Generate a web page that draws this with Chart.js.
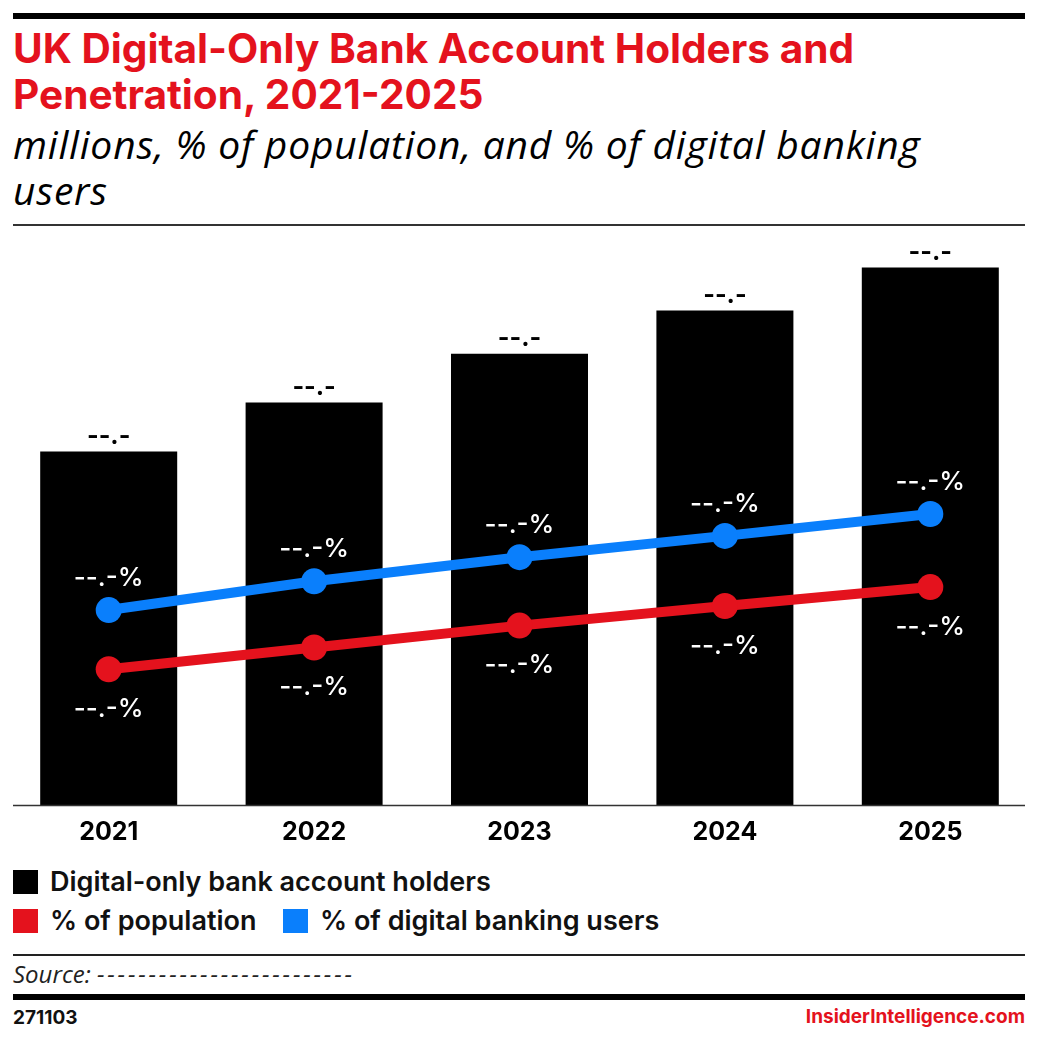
<!DOCTYPE html>
<html>
<head>
<meta charset="utf-8">
<script src="https://cdn.jsdelivr.net/npm/chart.js@4"></script>
<style>
  body { margin: 0; background: #fff; width: 1038px; height: 1042px; position: relative; overflow: hidden; font-family: Inter, sans-serif; }
  .abs { position: absolute; }
  .rule { position: absolute; left: 13px; width: 1012px; background: #000; }
  #title { left: 13px; top: 26px; font: 700 40.6px Inter; line-height: 46px; color: #e4121d; white-space: nowrap; }
  #subtitle { left: 13px; top: 121px; font: italic 400 39px "Open Sans"; line-height: 46px; letter-spacing: 0.8px; color: #000; white-space: nowrap; }
  .leg { position: absolute; font: 600 27px Inter; color: #111; line-height: 24px; white-space: nowrap; }
  .sw { position: absolute; width: 25px; height: 24px; }
  #source { left: 13px; top: 959px; font: italic 400 24px "Open Sans"; line-height: 30px; color: #222; white-space: nowrap; }
  #source span { letter-spacing: 2.8px; }
  #code { left: 13px; top: 1006px; font: 700 19px Inter; color: #111; }
  #brand { right: 13px; top: 1005px; font: 700 19px Inter; color: #e4121d; }
  #wrap { position: absolute; left: 0; top: 230px; width: 1038px; height: 629px; }
</style>
</head>
<body>
<div class="rule" style="top:13px;height:6px"></div>
<div id="title" class="abs">UK Digital-Only Bank Account Holders and<br>Penetration, 2021-2025</div>
<div id="subtitle" class="abs">millions, % of population, and % of digital banking<br>users</div>
<div class="rule" style="top:224px;height:2px;background:#333"></div>

<div id="wrap"><canvas id="myChart"></canvas></div>

<div class="sw" style="left:13px;top:870px;background:#000"></div>
<div class="leg" style="left:50px;top:870px">Digital-only bank account holders</div>
<div class="sw" style="left:13px;top:909px;background:#e4121d"></div>
<div class="leg" style="left:50px;top:909px">% of population</div>
<div class="sw" style="left:283px;top:909px;background:#0a7ffc"></div>
<div class="leg" style="left:320px;top:909px">% of digital banking users</div>

<div class="rule" style="top:954px;height:2px;background:#222"></div>
<div id="source" class="abs">Source: <span>-------------------------</span></div>
<div class="rule" style="top:994px;height:6px"></div>
<div id="code" class="abs">271103</div>
<div id="brand" class="abs">InsiderIntelligence.com</div>

<script>
var years = ['2021', '2022', '2023', '2024', '2025'];
// millions
var holders = [12.3, 14.0, 15.7, 17.2, 18.7];
// % of population
var popShare = [23.6, 27.4, 31.2, 34.6, 37.9];
// % of digital banking users
var userShare = [33.9, 38.9, 43.1, 46.8, 50.6];
var barLabel = '--.-';
var pctLabel = '--.-%';

var labelPlugin = {
  id: 'valueLabels',
  afterDatasetsDraw: function(chart) {
    var ctx = chart.ctx;
    var area = chart.chartArea;
    ctx.save();
    // baseline
    ctx.strokeStyle = '#333';
    ctx.lineWidth = 1.5;
    ctx.beginPath();
    ctx.moveTo(13, area.bottom + 0.5);
    ctx.lineTo(1025, area.bottom + 0.5);
    ctx.stroke();

    ctx.textAlign = 'center';
    ctx.textBaseline = 'middle';
    chart.data.datasets.forEach(function(ds, i) {
      var meta = chart.getDatasetMeta(i);
      meta.data.forEach(function(el) {
        if (ds.type === 'bar') {
          ctx.fillStyle = '#000';
          ctx.font = '700 25px Inter';
          ctx.fillText(barLabel, el.x, el.y - 15);
        } else {
          ctx.fillStyle = '#fff';
          ctx.font = '500 26px Inter';
          var dy = ds.labelPos === 'above' ? -32 : 40;
          ctx.fillText(pctLabel, el.x, el.y + dy);
        }
      });
    });
    ctx.restore();
  }
};

var context = document.getElementById('myChart');
var myChart = new Chart(context, {
  data: {
    labels: years,
    datasets: [
      {
        type: 'line',
        label: '% of digital banking users',
        data: userShare,
        yAxisID: 'y1',
        borderColor: '#0a7ffc',
        backgroundColor: '#0a7ffc',
        borderWidth: 10,
        pointRadius: 13,
        pointBorderWidth: 0,
        labelPos: 'above',
        order: 1
      },
      {
        type: 'line',
        label: '% of population',
        data: popShare,
        yAxisID: 'y1',
        borderColor: '#e4121d',
        backgroundColor: '#e4121d',
        borderWidth: 10,
        pointRadius: 13,
        pointBorderWidth: 0,
        labelPos: 'below',
        order: 2
      },
      {
        type: 'bar',
        label: 'Digital-only bank account holders',
        data: holders,
        yAxisID: 'y',
        backgroundColor: '#000',
        categoryPercentage: 1,
        barPercentage: 0.667,
        order: 3
      }
    ]
  },
  options: {
    responsive: true,
    maintainAspectRatio: false,
    animation: false,
    layout: { autoPadding: false, padding: { left: 6, right: 5, top: 0, bottom: 0 } },
    plugins: {
      legend: { display: false },
      tooltip: { enabled: false }
    },
    scales: {
      x: {
        grid: { display: false, drawTicks: false },
        border: { display: false },
        ticks: { color: '#000', padding: 12, font: { family: 'Inter', weight: '700', size: 25 } }
      },
      y: { display: false, min: 0, max: 20 },
      y1: { display: false, min: 0, max: 100 }
    }
  },
  plugins: [labelPlugin]
});
</script>
</body>
</html>
